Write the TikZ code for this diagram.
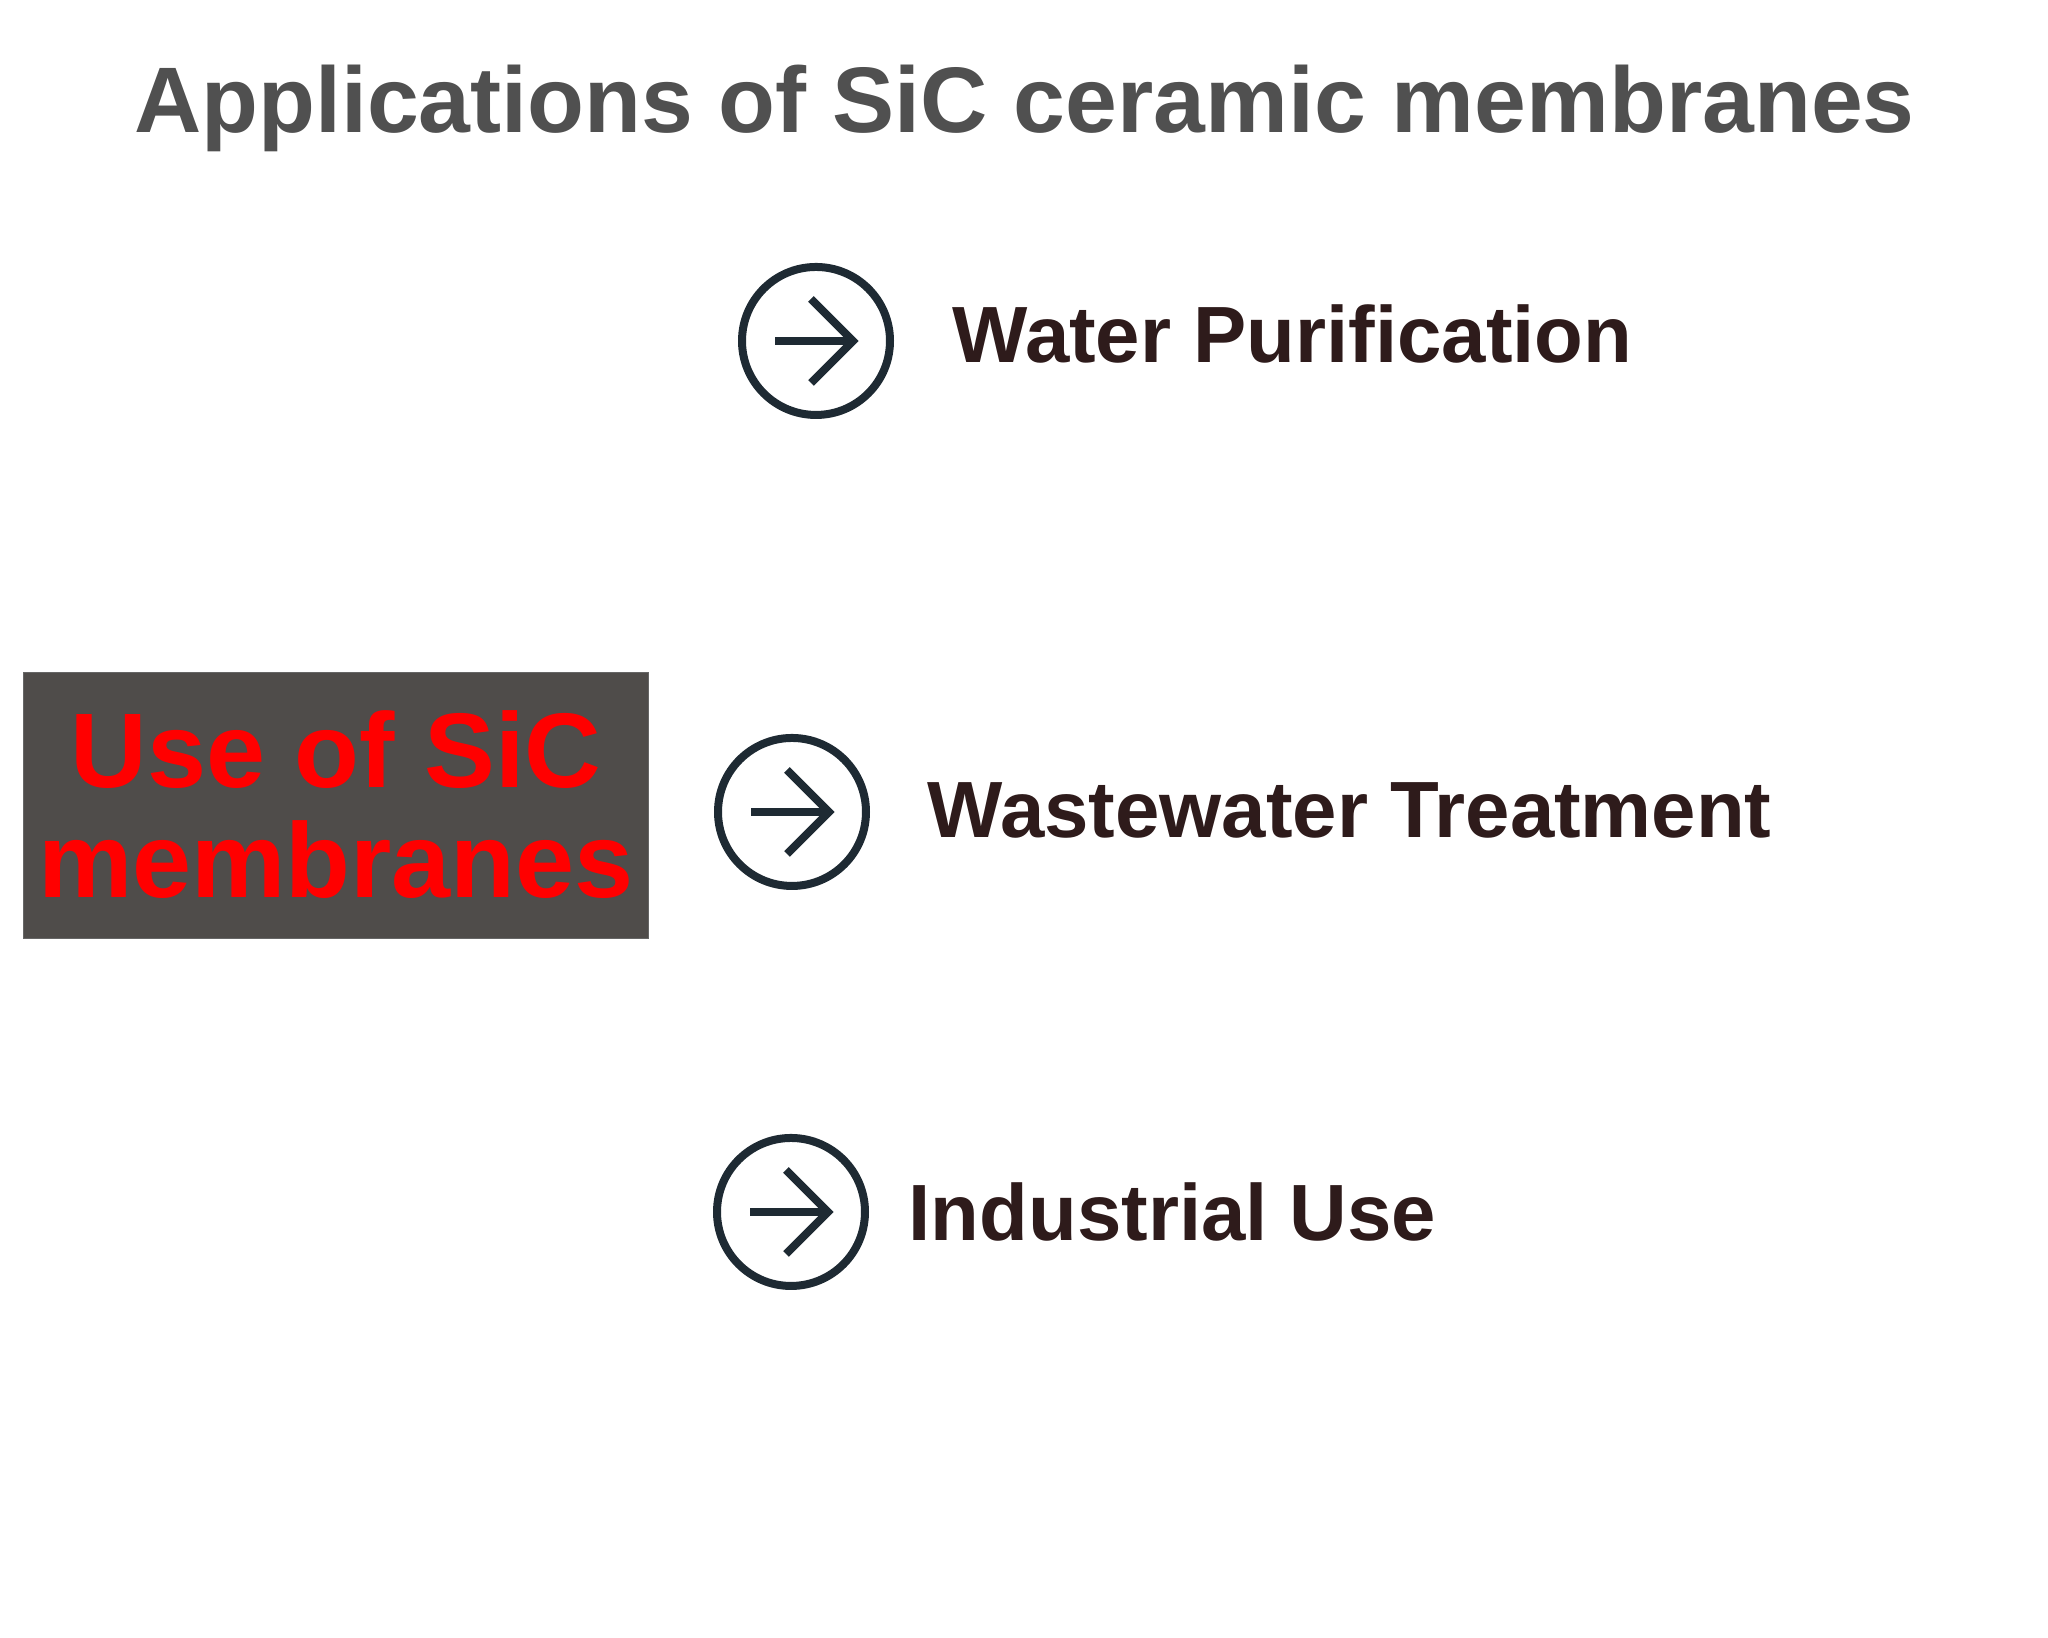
\documentclass[tikz,border=0pt]{standalone}
\usepackage{fontspec}
\setmainfont{Liberation Sans}
\definecolor{titlegray}{HTML}{505050}
\definecolor{boxgray}{HTML}{4F4C4A}
\definecolor{itemtext}{HTML}{2E1B1B}
\definecolor{icondark}{HTML}{1E2A33}
\begin{document}
\begin{tikzpicture}[
  ring/.style={circle, draw=icondark, line width=0.08cm, minimum size=1.48cm, inner sep=0pt},
  icon/.style={draw=icondark, line width=0.08cm},
  itemlabel/.style={anchor=base west, inner sep=0pt, text=itemtext, font=\fontsize{22.7}{27}\selectfont\bfseries}
]
\useasboundingbox (0,0) rectangle (20.48,16.38);

%draw title
\node[anchor=base, inner sep=0pt, text=titlegray, font=\fontsize{26.5}{32}\selectfont\bfseries] (title) at (10.245,15.05) {Applications of SiC ceramic membranes};

%draw dark box
\node[fill=boxgray, draw=gray!80!black, line width=0.2pt, minimum width=6.25cm, minimum height=2.66cm, inner sep=0pt, align=center, text=red, font=\fontsize{30.2}{31.3}\selectfont\bfseries] (usebox) at (3.36,8.33) {Use of SiC\\membranes};

%draw rings
\node[ring] (ring1) at (8.16,12.97) {};
\node[ring] (ring2) at (7.92,8.26) {};
\node[ring] (ring3) at (7.91,4.26) {};

%draw arrows inside the rings
\foreach \r in {ring1,ring2,ring3}
{
\draw[icon] ([xshift=-0.41cm]\r.center) -- ([xshift=0.36cm]\r.center);
\draw[icon] ([xshift=-0.05cm, yshift=0.42cm]\r.center) -- ([xshift=0.37cm]\r.center) -- ([xshift=-0.05cm, yshift=-0.42cm]\r.center);
}

%draw labels
\node[itemlabel] (water) at (9.52,12.75) {Water Purification};
\node[itemlabel] (waste) at (9.27,8.00) {Wastewater Treatment};
\node[itemlabel] (industry) at (9.08,3.97) {Industrial Use};
\end{tikzpicture}
\end{document}
